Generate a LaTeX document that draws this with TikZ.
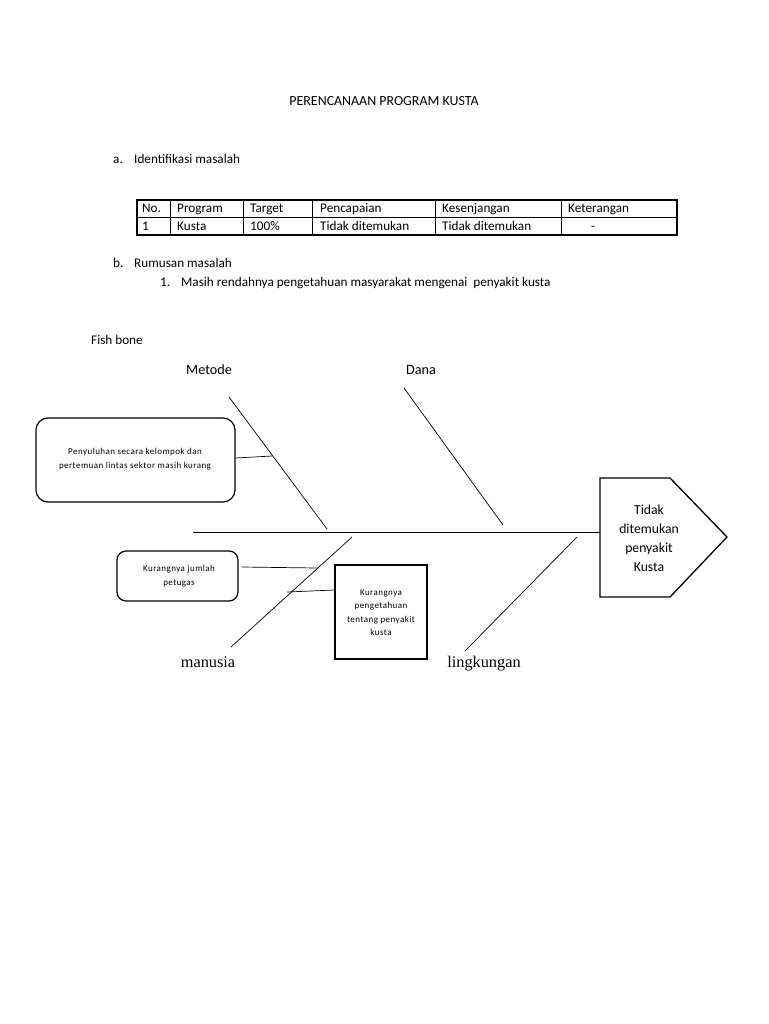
\documentclass[tikz,border=0pt]{standalone}
\usepackage{fontspec}
\setmainfont{Carlito}
\newfontfamily\serifface{Liberation Serif}
\newfontfamily\smallface[LetterSpace=5]{Carlito}
\begin{document}
\begin{tikzpicture}[x=1pt,y=-1pt,
  txt/.style={anchor=base west,inner sep=0pt,font=\fontsize{13.2}{15}\selectfont},
  small/.style={align=center,font=\smallface\fontsize{9}{13.5}\selectfont,inner sep=0pt},
  serif/.style={anchor=base,inner sep=0pt,font=\serifface\fontsize{16.3}{18}\selectfont},
  bone/.style={line width=0.7pt},
  boxr/.style={draw,line width=1.2pt,rounded corners=12pt},
  boxs/.style={draw,line width=1.1pt}]
\useasboundingbox (0,0) rectangle (768,1024);
% title and headings
\node[txt,anchor=base,font=\fontsize{13.9}{15}\selectfont] (title) at (384,106) {PERENCANAAN PROGRAM KUSTA};
\node[txt] (la) at (113,164) {a.};
\node[txt] (ida) at (134,164) {Identifikasi masalah};
% table
\draw[line width=1.1pt] (137,200) rectangle (677,235);
\draw[line width=0.9pt] (137,217.5) -- (677,217.5);
\foreach \xx in {170,243,312,435,561} \draw[line width=0.9pt] (\xx,200) -- (\xx,235);
\node[txt] (h1) at (142,213) {No.};
\node[txt] (h2) at (177,213) {Program};
\node[txt] (h3) at (250,213) {Target};
\node[txt] (h4) at (320,213) {Pencapaian};
\node[txt] (h5) at (442,213) {Kesenjangan};
\node[txt] (h6) at (568,213) {Keterangan};
\node[txt] (r1) at (142,231) {1};
\node[txt] (r2) at (177,231) {Kusta};
\node[txt] (r3) at (250,231) {100\%};
\node[txt] (r4) at (320,231) {Tidak ditemukan};
\node[txt] (r5) at (442,231) {Tidak ditemukan};
\node[txt] (r6) at (591,231) {-};
% b
\node[txt] (lb) at (113,267) {b.};
\node[txt] (rm) at (134,267) {Rumusan masalah};
\node[txt] (l1) at (160,286) {1.};
\node[txt] (m1) at (181,286) {Masih rendahnya pengetahuan masyarakat mengenai\ \ penyakit kusta};
\node[txt] (fb) at (91,344) {Fish bone};
\node[txt,anchor=base,font=\fontsize{14.2}{15}\selectfont] (metode) at (209,374) {Metode};
\node[txt,anchor=base,font=\fontsize{14.2}{15}\selectfont] (dana) at (421,374) {Dana};
\node[serif] (manusia) at (208,667) {manusia};
\node[serif] (lingk) at (484,667) {lingkungan};
% head
\draw[line width=1.3pt] (600,478) -- (670,478) -- (727,537) -- (670,597) -- (600,597) -- cycle;
\node[align=center,inner sep=0pt,font=\fontsize{13.7}{19}\selectfont] (headtxt) at (649,538) {Tidak\\ditemukan\\penyakit\\Kusta};
% spine
\coordinate (sp0) at (193,532);
\coordinate (sp1) at (600,532);
\draw[bone] (sp0) -- (sp1);
% bones
\coordinate (mt0) at (229,397); \coordinate (mt1) at (327,529);
\coordinate (dn0) at (404,388); \coordinate (dn1) at (503,525);
\coordinate (mn0) at (352,537); \coordinate (mn1) at (231,647);
\coordinate (lk0) at (577,537); \coordinate (lk1) at (465,651);
\draw[bone] (mt0) -- (mt1);
\draw[bone] (dn0) -- (dn1);
\draw[bone] (mn0) -- (mn1);
\draw[bone] (lk0) -- (lk1);
% boxes
\node[boxr,minimum width=199pt,minimum height=84pt] (b1) at (135.5,460) {};
\node[small] (b1t) at (135,459) {Penyuluhan secara kelompok dan\\pertemuan lintas sektor masih kurang};
\node[boxr,rounded corners=9pt,minimum width=121pt,minimum height=50pt] (b2) at (177.5,576) {};
\node[small] (b2t) at (179,576) {Kurangnya jumlah\\petugas};
\node[boxs,minimum width=92pt,minimum height=94pt] (b3) at (381,612) {};
\node[small] (b3t) at (381,612.5) {Kurangnya\\pengetahuan\\tentang penyakit\\kusta};
% connectors
\coordinate (c1) at (272,456);
\coordinate (c2) at (317,568);
\coordinate (c3) at (287,592);
\draw[bone] ([yshift=2pt]b1.east) -- (c1);
\draw[bone] ([xshift=3pt,yshift=9pt]b2.east) -- (c2);
\draw[bone] ([yshift=22pt]b3.west) -- (c3);
\end{tikzpicture}
\end{document}
